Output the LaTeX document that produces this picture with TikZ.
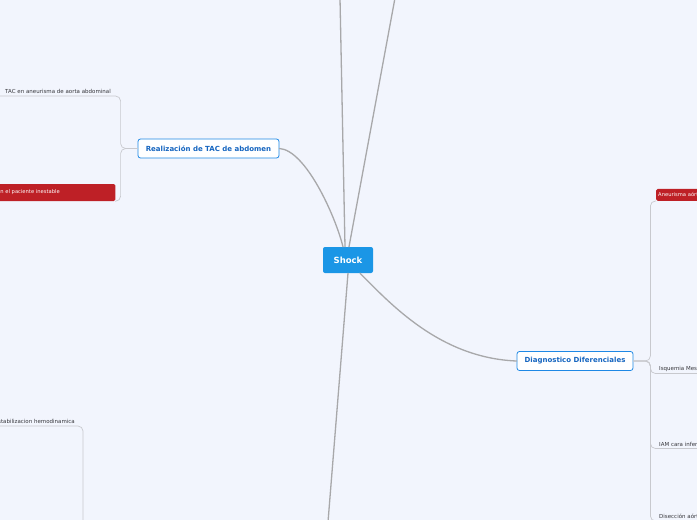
\documentclass[tikz,border=0pt]{standalone}
\usepackage{fontspec}
\setmainfont{DejaVu Sans}
\definecolor{bgcol}{RGB}{242,245,253}
\definecolor{rootblue}{RGB}{27,150,230}
\definecolor{topicblue}{RGB}{30,136,229}
\definecolor{topictext}{RGB}{21,101,192}
\definecolor{leafred}{RGB}{190,32,38}
\definecolor{leafgrey}{RGB}{55,55,60}
\definecolor{linegrey}{RGB}{168,168,170}
\definecolor{sublinegrey}{RGB}{200,201,206}
\begin{document}
\begin{tikzpicture}[x=1pt, y=-1pt, line cap=round,
  root/.style={fill=rootblue, rounded corners=2pt, text=white, font=\bfseries\fontsize{8.5}{10}\selectfont, minimum width=50pt, minimum height=26pt, inner sep=0pt},
  topic/.style={draw=topicblue, line width=0.8pt, fill=white, rounded corners=2.5pt, text=topictext, font=\bfseries\fontsize{7}{8}\selectfont, inner sep=0pt, minimum height=19pt},
  redleaf/.style={fill=leafred, rounded corners=1.5pt, text=white, font=\fontsize{5.2}{6}\selectfont, inner ysep=0pt, inner xsep=2pt, align=left},
  leaf/.style={text=leafgrey, font=\fontsize{5.5}{6.5}\selectfont, inner xsep=1pt, inner ysep=2pt},
  mainline/.style={draw=linegrey, line width=1.3pt},
  subline/.style={draw=sublinegrey, line width=0.7pt, rounded corners=5pt}]
  \useasboundingbox (0,0) rectangle (697,520);
  \fill[bgcol] (0,0) rectangle (697,520);
  \clip (0,0) rectangle (697,520);

  \node[root] (shock) at (348,260) {Shock};
  \node[topic, minimum width=141pt] (tac) at (208.5,148.5) {Realización de TAC de abdomen};
  \node[topic, minimum width=116pt] (diag) at (575,361) {Diagnostico Diferenciales};

  \coordinate (up1) at (340,-2);
  \coordinate (up2) at (395,-2);
  \coordinate (down1) at (328,522);
  \draw[mainline] ([xshift=-3pt]shock.north) -- (up1);
  \draw[mainline] ([xshift=1pt]shock.north) -- (up2);
  \draw[mainline] (shock.south) -- (down1);
  \draw[mainline] (tac.east) .. controls +(26,1.5) and +(-8,-32) .. ([xshift=-5pt]shock.north);
  \draw[mainline] ([xshift=12pt]shock.south) .. controls +(30,30) and +(-77,-3) .. (diag.west);

  % left branch
  \node[leaf, minimum width=122pt, anchor=south] (aorta) at (58,96) {TAC en aneurisma de aorta abdominal};
  \node[redleaf, text width=113pt, minimum height=17pt, anchor=east] (inestable) at (115.5,192.5) {n el paciente inestable};
  \coordinate (tac-fork) at ([xshift=-17pt]tac.west);
  \draw[subline] (tac.west) -- (tac-fork) |- (aorta.south west);
  \draw[subline] (tac.west) -- (tac-fork) |- (inestable.south east);

  % right branch
  \node[redleaf, text width=60pt, minimum height=12pt, anchor=south west] (aneur) at (656,201) {Aneurisma aórtico};
  \node[leaf, anchor=south west] (isq) at (658,373.5) {Isquemia Mesentérica};
  \node[leaf, anchor=south west] (iam) at (658,448.5) {IAM cara inferior};
  \node[leaf, anchor=south west] (disec) at (658,521) {Disección aórtica};
  \coordinate (diag-fork) at ([xshift=17pt]diag.east);
  \draw[subline] (diag.east) -- (diag-fork) |- (aneur.south west);
  \draw[subline] (diag.east) -- (diag-fork) |- (isq.south east);
  \draw[subline] (diag.east) -- (diag-fork) |- (iam.south east);
  \draw[subline] (diag.east) -- (diag-fork) |- (disec.south east);

  % bottom left
  \node[leaf, anchor=south east] (stab) at (76,426) {stabilizacion hemodinamica};
  \coordinate (stab-end) at (83,522);
  \draw[subline] (stab-end) |- (stab.south west);
\end{tikzpicture}
\end{document}
